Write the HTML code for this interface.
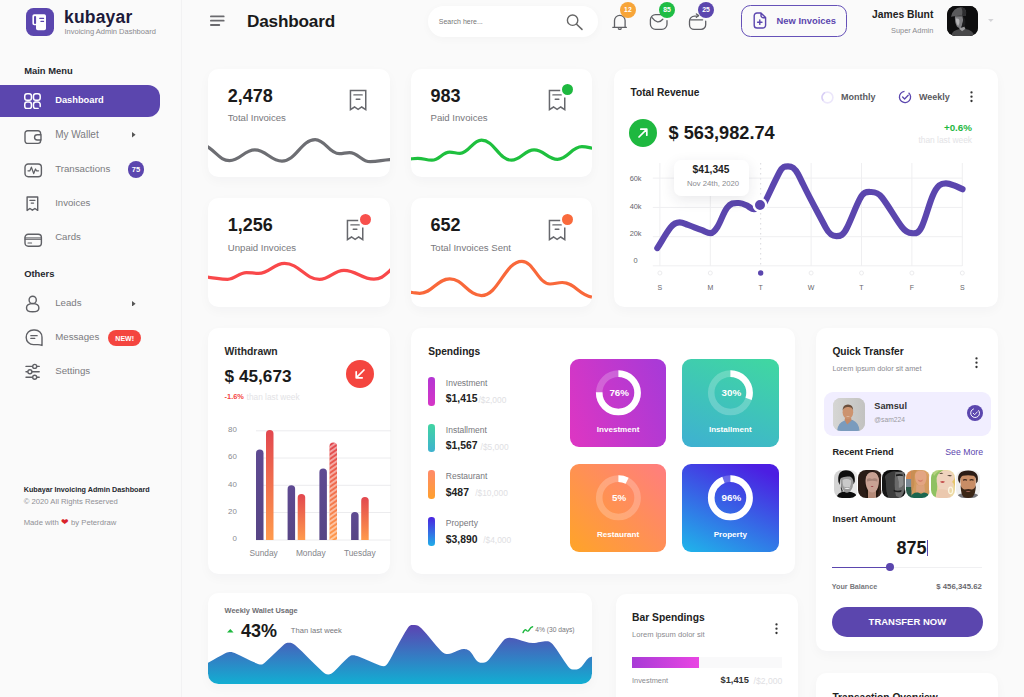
<!DOCTYPE html>
<html><head><meta charset="utf-8"><title>Kubayar Dashboard</title>
<style>
*{box-sizing:border-box;margin:0;padding:0}
html,body{width:1024px;height:697px;overflow:hidden;background:#fafafa;font-family:"Liberation Sans",sans-serif;}
#root{position:relative;width:1024px;height:697px;overflow:hidden;background:#fafafa}
.t{position:absolute;white-space:nowrap;font-family:"Liberation Sans",sans-serif;}
.card{background:#fff;border-radius:10.5px;box-shadow:0 4px 12px rgba(40,40,60,0.03);}
</style></head><body><div id="root">
<div class="" style="position:absolute;left:0px;top:0px;width:182px;height:697px;background:#fafafa;border-right:1px solid #f2f2f3;"></div>
<div class="" style="position:absolute;left:25.8px;top:8.4px;width:28px;height:28px;background:#5b46ae;border-radius:7.5px;"></div>
<svg style="position:absolute;left:25.8px;top:8.4px;" width="28" height="28" viewBox="0 0 28 28" fill="none"><path d="M8.2 6.2 h10 a1.8 1.8 0 0 1 1.8 1.8 v12.400 a1.8 1.8 0 0 1 -1.8 1.8 h-6.400 a1.8 1.8 0 0 1 -1.8 -1.8 v-3.200 h-1.800 a1.8 1.8 0 0 1 -1.8 -1.8 v-7.400 a1.8 1.8 0 0 1 1.8 -1.8z" fill="#fff"/><rect x="8" y="8.1" width="2.1" height="7.8" rx="1" fill="#5b46ae"/><rect x="13.2" y="9.800" width="4.9" height="1.1" rx=".5" fill="#5b46ae"/><rect x="14.4" y="12.700" width="3.7" height="1.2" rx=".5" fill="#5b46ae"/></svg>
<div class="t" style="top:8.65px;font-size:17.5px;line-height:17.5px;color:#1d1a3b;font-weight:bold;letter-spacing:0.18px;left:64px;">kubayar</div>
<div class="t" style="top:27.55px;font-size:7.5px;line-height:7.5px;color:#8a8a8f;font-weight:normal;left:64.5px;">Invoicing Admin Dashboard</div>
<div class="t" style="top:66.40px;font-size:9.4px;line-height:9.4px;color:#25282e;font-weight:bold;left:24.2px;">Main Menu</div>
<div class="" style="position:absolute;left:0px;top:85px;width:160.3px;height:31.7px;background:#5b46ae;border-radius:0 12px 12px 0;"></div>
<svg style="position:absolute;left:24.2px;top:93px;" width="17" height="16.4" viewBox="0 0 17 16.4" fill="none"><g stroke="#fff" stroke-width="1.5"><rect x=".75" y=".75" width="6.7" height="6.5" rx="2.3"/><rect x="9.5" y=".75" width="6.7" height="6.5" rx="2.3"/><rect x=".75" y="9.1" width="6.700" height="6.500" rx="2.3"/><path d="M16.200 13.400 v-2 a2.300 2.300 0 0 0 -2.300 -2.300 h-2.100 a2.300 2.300 0 0 0 -2.300 2.300 v1.900 a2.300 2.300 0 0 0 2.300 2.300 h2.300" stroke-linecap="round"/></g></svg>
<div class="t" style="top:96.05px;font-size:9.3px;line-height:9.3px;color:#fff;font-weight:bold;left:55.2px;">Dashboard</div>
<div class="t" style="top:129.70px;font-size:10px;line-height:10px;color:#7b7b80;font-weight:normal;left:55.2px;">My Wallet</div>
<div class="t" style="top:163.95px;font-size:9.7px;line-height:9.7px;color:#7b7b80;font-weight:normal;left:55.2px;">Transactions</div>
<div class="t" style="top:198.00px;font-size:9.6px;line-height:9.6px;color:#7b7b80;font-weight:normal;left:55.2px;">Invoices</div>
<div class="t" style="top:232.40px;font-size:9.6px;line-height:9.6px;color:#7b7b80;font-weight:normal;left:55.2px;">Cards</div>
<div class="t" style="top:268.70px;font-size:9.4px;line-height:9.4px;color:#25282e;font-weight:bold;left:24.2px;">Others</div>
<div class="t" style="top:297.95px;font-size:9.7px;line-height:9.7px;color:#7b7b80;font-weight:normal;left:55.2px;">Leads</div>
<div class="t" style="top:332.45px;font-size:9.7px;line-height:9.7px;color:#7b7b80;font-weight:normal;left:55.2px;">Messages</div>
<div class="t" style="top:366.35px;font-size:9.7px;line-height:9.7px;color:#7b7b80;font-weight:normal;left:55.2px;">Settings</div>
<svg style="position:absolute;left:132.3px;top:132.3px;" width="4" height="5.6" viewBox="0 0 4 5.6" fill="none"><path d="M0 0 L3.6 2.8 L0 5.6z" fill="#555"/></svg>
<svg style="position:absolute;left:132.3px;top:300.5px;" width="4" height="5.6" viewBox="0 0 4 5.6" fill="none"><path d="M0 0 L3.6 2.8 L0 5.6z" fill="#555"/></svg>
<div class="" style="position:absolute;left:127.7px;top:161.2px;width:16.6px;height:16.6px;background:#5b46ae;border-radius:50%;"></div>
<div class="t" style="top:165.85px;font-size:7.5px;line-height:7.5px;color:#fff;font-weight:bold;left:-14px;width:300px;text-align:center;">75</div>
<div class="" style="position:absolute;left:108.2px;top:330px;width:33px;height:16.3px;background:#f4453f;border-radius:9px;"></div>
<div class="t" style="top:334.80px;font-size:7px;line-height:7px;color:#fff;font-weight:bold;left:-25.299999999999997px;width:300px;text-align:center;">NEW!</div>
<svg style="position:absolute;left:24.2px;top:129.9px;" width="19" height="15" viewBox="0 0 19 15" fill="none"><g stroke="#5f6065" stroke-width="1.4" stroke-linecap="round" stroke-linejoin="round"><path d="M16.600 4.600 v-1.200 a2.600 2.600 0 0 0 -2.600 -2.600 h-10.400 a2.600 2.600 0 0 0 -2.600 2.600 v7.400 a2.600 2.600 0 0 0 2.600 2.600 h10.400 a2.600 2.600 0 0 0 2.600 -2.600 v-.8"/><path d="M17 4.700 h-3.800 a2.650 2.650 0 0 0 0 5.300 h3.800z"/></g></svg>
<svg style="position:absolute;left:24px;top:163.4px;" width="19" height="15" viewBox="0 0 19 15" fill="none"><g stroke="#5f6065" stroke-width="1.4" stroke-linecap="round" stroke-linejoin="round"><rect x="1" y="1" width="16.4" height="12.8" rx="3.2"/><path d="M4 7.8 h1.9 l1.5 -3.6 l2.3 6.4 l1.8 -4.6 l1 1.8 h2" stroke-width="1.25"/></g></svg>
<svg style="position:absolute;left:26.2px;top:195.8px;" width="14" height="16" viewBox="0 0 14 16" fill="none"><g stroke="#5f6065" stroke-width="1.4" stroke-linecap="round" stroke-linejoin="round" stroke-linejoin="miter"><path d="M1.1 1 H11.7 V14.4 L8.9 12.5 L6.4 14.2 L3.9 12.5 L1.1 14.4z" stroke-linecap="butt"/><path d="M3.8 4.3 h5.2 M5.2 7.1 h2.4" stroke-width="1.2"/></g></svg>
<svg style="position:absolute;left:24px;top:232.6px;" width="19" height="15" viewBox="0 0 19 15" fill="none"><g stroke="#5f6065" stroke-width="1.4" stroke-linecap="round" stroke-linejoin="round"><rect x="1" y="1.2" width="16.4" height="12" rx="3.2"/><path d="M1 4.9 h16.4 M1 6.3 h16.4" stroke-width="1"/><path d="M4 10 h3.6" stroke-width="1.1"/></g></svg>
<svg style="position:absolute;left:25.4px;top:294.6px;" width="16" height="18" viewBox="0 0 16 18" fill="none"><g stroke="#5f6065" stroke-width="1.4" stroke-linecap="round" stroke-linejoin="round"><circle cx="7.7" cy="4.9" r="3.6"/><path d="M7.7 8.6 c4.6 0 6.2 1.8 6.2 4.3 c0 2.6 -1.600 3.900 -6.200 3.900 c-4.600 0 -6.200 -1.300 -6.200 -3.900 c0 -2.500 1.600 -4.300 6.200 -4.300z"/></g></svg>
<svg style="position:absolute;left:24.6px;top:328.8px;" width="19" height="18" viewBox="0 0 19 18" fill="none"><g stroke="#5f6065" stroke-width="1.4" stroke-linecap="round" stroke-linejoin="round"><path d="M17 16.400 v-8.200 a7.200 7.200 0 0 0 -7.200 -7.200 h-1.400 a7.200 7.200 0 0 0 -7.200 7.200 v.2 a7.200 7.200 0 0 0 7.200 7.200 h4.400 q2.400 0 4.200 .8z"/><path d="M5.800 6.700 h6.400 M5.800 9.400 h4" stroke-width="1.2"/></g></svg>
<svg style="position:absolute;left:24.8px;top:363.2px;" width="16" height="18" viewBox="0 0 16 18" fill="none"><g stroke="#5f6065" stroke-width="1.4" stroke-linecap="round" stroke-linejoin="round"><path d="M1 3.400 h6.200 M12.200 3.400 h2 M1 8.800 h1.400 M7.200 8.800 h7 M1 14.300 h6.200 M12.200 14.300 h2"/><circle cx="9.700" cy="3.400" r="2"/><circle cx="4.900" cy="8.800" r="2"/><circle cx="9.700" cy="14.300" r="2"/></g></svg>
<div class="t" style="top:485.60px;font-size:7.2px;line-height:7.2px;color:#25282e;font-weight:bold;left:23.7px;">Kubayar Invoicing Admin Dashboard</div>
<div class="t" style="top:497.65px;font-size:7.7px;line-height:7.7px;color:#909095;font-weight:normal;left:23.7px;">© 2020 All Rights Reserved</div>
<div class="t" style="top:518.75px;font-size:7.7px;line-height:7.7px;color:#909095;font-weight:normal;left:23.7px;">Made with <span style="color:#d9232a;font-size:9px">&#10084;</span> by Peterdraw</div>
<svg style="position:absolute;left:210px;top:15.3px;" width="15" height="12" viewBox="0 0 15 12" fill="none"><path d="M.9 1.400 h12.800 M.9 5.700 h12.800 M.9 10 h8.400" stroke="#6a6a6e" stroke-width="1.800" stroke-linecap="round"/></svg>
<div class="t" style="top:12.70px;font-size:17.2px;line-height:17.2px;color:#1a1a1a;font-weight:bold;letter-spacing:-0.2px;left:247px;">Dashboard</div>
<div class="" style="position:absolute;left:428px;top:6px;width:169.5px;height:31px;background:#fff;border-radius:15.5px;box-shadow:0 2px 8px rgba(0,0,0,0.03);"></div>
<div class="t" style="top:17.50px;font-size:7px;line-height:7px;color:#777;font-weight:normal;left:438.8px;">Search here...</div>
<svg style="position:absolute;left:565px;top:13px;" width="20" height="18" viewBox="0 0 20 18" fill="none"><circle cx="7.6" cy="7.2" r="5.2" stroke="#666" stroke-width="1.4"/><path d="M11.6 11.2 L17 16.4" stroke="#666" stroke-width="1.5" stroke-linecap="round"/></svg>
<svg style="position:absolute;left:611px;top:13px;" width="18" height="19" viewBox="0 0 18 19" fill="none"><g stroke="#5f6065" stroke-width="1.3" stroke-linecap="round" stroke-linejoin="round"><path d="M3.5 14.2 v-6.6 a5.3 5.3 0 0 1 10.6 0 v6.6 M1.8 14.3 h13.6 M7.4 15.7 q1.4 1.3 2.8 0"/></g></svg>
<svg style="position:absolute;left:649px;top:13px;" width="20" height="19" viewBox="0 0 20 19" fill="none"><g stroke="#5f6065" stroke-width="1.3" stroke-linecap="round" stroke-linejoin="round"><path d="M13 1.6 h-6.4 a5.2 5.2 0 0 0 -5.2 5.2 v4.4 a5.2 5.2 0 0 0 5.2 5.2 h6.2 a5.2 5.2 0 0 0 5.2 -5.2 v-3.6"/><path d="M3 4.6 q5.6 7.6 10.8 1.6"/></g></svg>
<svg style="position:absolute;left:688px;top:13px;" width="20" height="19" viewBox="0 0 20 19" fill="none"><g stroke="#5f6065" stroke-width="1.3" stroke-linecap="round" stroke-linejoin="round"><path d="M17.7 8.2 v3.6 a4.6 4.6 0 0 1 -4.6 4.6 h-7 a4.6 4.6 0 0 1 -4.6 -4.6 v-3.6 a5 5 0 0 1 5 -5 h3.4"/><path d="M2.6 6.8 h12"/><path d="M8.4 .9 l2.2 1.7 l-2.2 1.7"/></g></svg>
<div class="" style="position:absolute;left:619.7px;top:2.1px;width:16.3px;height:16.3px;background:#f7a539;border-radius:50%;"></div>
<div class="t" style="top:7.10px;font-size:6.8px;line-height:6.8px;color:#fff;font-weight:bold;left:477.9000000000001px;width:300px;text-align:center;">12</div>
<div class="" style="position:absolute;left:658.8px;top:2.1px;width:16.3px;height:16.3px;background:#1fbd45;border-radius:50%;"></div>
<div class="t" style="top:7.10px;font-size:6.8px;line-height:6.8px;color:#fff;font-weight:bold;left:517.0px;width:300px;text-align:center;">85</div>
<div class="" style="position:absolute;left:697.8px;top:2.1px;width:16.3px;height:16.3px;background:#5b46ae;border-radius:50%;"></div>
<div class="t" style="top:7.10px;font-size:6.8px;line-height:6.8px;color:#fff;font-weight:bold;left:556.0px;width:300px;text-align:center;">25</div>
<div class="" style="position:absolute;left:741.2px;top:5.2px;width:105.6px;height:31.8px;border:1.4px solid #6652b8;border-radius:9.5px;"></div>
<svg style="position:absolute;left:753px;top:12.4px;" width="14" height="17" viewBox="0 0 14 17" fill="none"><g stroke="#5b46ae" stroke-width="1.4" stroke-linecap="round" stroke-linejoin="round"><path d="M8 1 h-4 a2.8 2.8 0 0 0 -2.8 2.8 v9.4 a2.8 2.8 0 0 0 2.8 2.8 h5.8 a2.8 2.8 0 0 0 2.8 -2.8 v-7.6z M8 1 v2.4 a2.4 2.4 0 0 0 2.4 2.4 h2.2"/><path d="M6.8 8 v4.4 M4.6 10.2 h4.4"/></g></svg>
<div class="t" style="top:16.20px;font-size:9.4px;line-height:9.4px;color:#5b46ae;font-weight:bold;left:776.6px;">New Invoices</div>
<div class="t" style="top:9.65px;font-size:10.3px;line-height:10.3px;color:#222;font-weight:bold;right:90.70000000000005px;text-align:right;">James Blunt</div>
<div class="t" style="top:26.90px;font-size:7.4px;line-height:7.4px;color:#8a8a8f;font-weight:normal;right:90.70000000000005px;text-align:right;">Super Admin</div>
<div class="" style="position:absolute;left:946.8px;top:5.7px;width:30.8px;height:30.6px;border-radius:8.5px;background:#0f0f10;overflow:hidden;"><svg width="31" height="31" viewBox="0 0 32 32"><rect width="32" height="32" fill="#0e0e0f"/><path d="M3.6 32 q1.4 -6.8 9.4 -8.2 h6 q8 1.2 10 8.2z" fill="#48484a"/><path d="M12.6 23.4 l3 2.6 l3.4 -2.4 l-1.2 -2.4 h-4z" fill="#9a9a9c"/><path d="M8.2 10.6 h8 q1.2 7 -1.8 11.8 q-2.6 1 -4.2 -1.2 q-2.4 -4.2 -2 -10.6z" fill="#7d7d80"/><path d="M9.2 13 q2.4 -.6 3.6 1.4 q.6 3.6 -1.2 6.2 q-2.6 -2.6 -2.4 -7.6z" fill="#b4b4b6"/><path d="M4.2 11 q2 -9 10.2 -9.6 q5 .4 5.4 5.8 l-.8 3.2 q-6.4 -1 -14.8 .6z" fill="#5a5a5c"/><path d="M14.4 1.4 q5 .4 5.4 5.8 l-.8 3.2 l-3.6 -.4 q1.4 -5 -1 -8.6z" fill="#2e2e30"/><path d="M16.2 10.6 q3.6 2 2.6 9 q-1.4 3 -4.4 2.8 q3 -4.800 1.800 -11.8z" fill="#1c1c1e"/></svg></div>
<svg style="position:absolute;left:988px;top:19.4px;" width="6" height="4" viewBox="0 0 6 4" fill="none"><path d="M0 0 L5.6 0 L2.8 3z" fill="#d4d4d7"/></svg>
<div class="card" style="position:absolute;left:207.8px;top:68.8px;width:182.4px;height:108.4px;overflow:hidden;"><svg width="183" height="109" viewBox="207.8 68.8 183 109" style="position:absolute;left:0;top:0"><path d="M203.0 143.5 C205.4 145.1 206.3 145.7 208.7 147.4 C217.4 153.5 220.6 160.4 229.3 160.4 C239.9 160.4 244.0 149.7 254.6 149.7 C266.0 149.7 270.4 160.9 281.8 160.9 C295.7 160.9 301.1 139.4 315.0 139.4 C325.1 139.4 328.9 153.5 339.0 153.5 C343.3 153.5 345.0 152.4 349.3 152.4 C358.0 152.4 361.3 161.5 370.0 161.5 C378.2 161.5 381.4 159.9 389.6 159.4 C391.9 159.3 392.7 159.2 395.0 159.2" stroke="#6d6e73" stroke-width="3.2" fill="none" stroke-linecap="round"/></svg></div>
<div class="t" style="top:86.60px;font-size:18px;line-height:18px;color:#1a1a1a;font-weight:bold;left:227.8px;">2,478</div>
<div class="t" style="top:113.00px;font-size:9.6px;line-height:9.6px;color:#77777c;font-weight:normal;left:227.8px;">Total Invoices</div>
<svg style="position:absolute;left:348.6px;top:89.19999999999999px;" width="18" height="23" viewBox="0 0 18 23" fill="none"><g stroke="#67686d" stroke-width="1.5" stroke-linejoin="miter" stroke-linecap="butt"><path d="M1.45 1.45 H16.75 V20.6 L12.7 18 L9.1 20.4 L5.5 18 L1.45 20.6z"/><path d="M4.9 5.9 h8.3 M7.2 10.2 h3.7" stroke-width="1.4" stroke-linecap="round"/></g></svg>
<div class="card" style="position:absolute;left:410.5px;top:68.8px;width:181.5px;height:108.4px;overflow:hidden;"><svg width="183" height="109" viewBox="410.5 68.8 183 109" style="position:absolute;left:0;top:0"><path d="M406.0 158.9 C410.7 158.9 412.6 158.2 417.3 158.2 C423.2 158.2 425.5 160.0 431.4 160.0 C438.9 160.0 441.7 151.9 449.2 151.9 C453.5 151.9 455.2 153.1 459.5 153.1 C468.5 153.1 472.0 139.9 481.0 139.9 C493.6 139.9 498.4 160.0 511.0 160.0 C520.5 160.0 524.1 149.7 533.6 149.7 C543.4 149.7 547.2 159.1 557.0 159.1 C567.2 159.1 571.2 146.5 581.4 146.5 C585.3 146.5 586.9 147.0 590.8 147.8 C593.4 148.3 594.4 148.7 597.0 149.2" stroke="#1ec03e" stroke-width="3.2" fill="none" stroke-linecap="round"/></svg></div>
<div class="t" style="top:86.60px;font-size:18px;line-height:18px;color:#1a1a1a;font-weight:bold;left:430.5px;">983</div>
<div class="t" style="top:113.00px;font-size:9.6px;line-height:9.6px;color:#77777c;font-weight:normal;left:430.5px;">Paid Invoices</div>
<svg style="position:absolute;left:548px;top:89.19999999999999px;" width="18" height="23" viewBox="0 0 18 23" fill="none"><g stroke="#67686d" stroke-width="1.5" stroke-linejoin="miter" stroke-linecap="butt"><path d="M12.2 1.45 H1.45 V20.6 L5.5 18 L9.1 20.4 L12.7 18 L16.75 20.6 V8.6"/><path d="M4.9 5.9 h8.3 M7.2 10.2 h3.7" stroke-width="1.4" stroke-linecap="round"/></g></svg>
<div class="" style="position:absolute;left:562px;top:83.99999999999999px;width:11.4px;height:11.4px;background:#1eb83f;border-radius:50%;"></div>
<div class="card" style="position:absolute;left:207.8px;top:198.3px;width:182.4px;height:108.4px;overflow:hidden;"><svg width="183" height="109" viewBox="207.8 198.3 183 109" style="position:absolute;left:0;top:0"><path d="M203.0 277.2 C205.4 277.3 206.3 277.4 208.7 277.6 C216.6 278.2 219.5 279.6 227.4 279.6 C235.3 279.6 238.3 272.9 246.2 272.9 C251.3 272.9 253.3 273.6 258.4 273.6 C269.3 273.6 273.4 263.7 284.3 263.7 C299.0 263.7 304.6 279.6 319.3 279.6 C329.5 279.6 333.5 270.6 343.7 270.6 C356.3 270.6 361.1 279.4 373.7 279.4 C380.4 279.4 382.9 277.0 389.6 271.0 C391.9 269.0 392.7 268.0 395.0 266.0" stroke="#f9484a" stroke-width="3.2" fill="none" stroke-linecap="round"/></svg></div>
<div class="t" style="top:216.10px;font-size:18px;line-height:18px;color:#1a1a1a;font-weight:bold;left:227.8px;">1,256</div>
<div class="t" style="top:242.50px;font-size:9.6px;line-height:9.6px;color:#77777c;font-weight:normal;left:227.8px;">Unpaid Invoices</div>
<svg style="position:absolute;left:345.8px;top:218.70000000000002px;" width="18" height="23" viewBox="0 0 18 23" fill="none"><g stroke="#67686d" stroke-width="1.5" stroke-linejoin="miter" stroke-linecap="butt"><path d="M12.2 1.45 H1.45 V20.6 L5.5 18 L9.1 20.4 L12.7 18 L16.75 20.6 V8.6"/><path d="M4.9 5.9 h8.3 M7.2 10.2 h3.7" stroke-width="1.4" stroke-linecap="round"/></g></svg>
<div class="" style="position:absolute;left:359.8px;top:213.50000000000003px;width:11.4px;height:11.4px;background:#f8504c;border-radius:50%;"></div>
<div class="card" style="position:absolute;left:410.5px;top:198.3px;width:181.5px;height:108.4px;overflow:hidden;"><svg width="183" height="109" viewBox="410.5 198.3 183 109" style="position:absolute;left:0;top:0"><path d="M406.0 292.4 C408.4 292.5 409.3 292.6 411.7 292.8 C414.8 293.1 416.1 293.7 419.2 293.7 C431.8 293.7 436.6 279.1 449.2 279.1 C462.6 279.1 467.6 295.9 481.0 295.9 C498.0 295.9 504.4 261.6 521.4 261.6 C533.2 261.6 537.7 284.3 549.5 284.3 C554.6 284.3 556.6 282.8 561.7 282.8 C574.6 282.8 579.4 296.8 592.3 297.4 C594.3 297.5 595.0 297.6 597.0 297.6" stroke="#f9683a" stroke-width="3.2" fill="none" stroke-linecap="round"/></svg></div>
<div class="t" style="top:216.10px;font-size:18px;line-height:18px;color:#1a1a1a;font-weight:bold;left:430.5px;">652</div>
<div class="t" style="top:242.50px;font-size:9.6px;line-height:9.6px;color:#77777c;font-weight:normal;left:430.5px;">Total Invoices Sent</div>
<svg style="position:absolute;left:548px;top:218.70000000000002px;" width="18" height="23" viewBox="0 0 18 23" fill="none"><g stroke="#67686d" stroke-width="1.5" stroke-linejoin="miter" stroke-linecap="butt"><path d="M12.2 1.45 H1.45 V20.6 L5.5 18 L9.1 20.4 L12.7 18 L16.75 20.6 V8.6"/><path d="M4.9 5.9 h8.3 M7.2 10.2 h3.7" stroke-width="1.4" stroke-linecap="round"/></g></svg>
<div class="" style="position:absolute;left:562px;top:213.50000000000003px;width:11.4px;height:11.4px;background:#f96a3c;border-radius:50%;"></div>
<div class="card" style="position:absolute;left:613.8px;top:68.8px;width:384px;height:238.4px;"></div>
<div class="t" style="top:87.50px;font-size:10.2px;line-height:10.2px;color:#222;font-weight:bold;left:630.5px;">Total Revenue</div>
<svg style="position:absolute;left:820.6px;top:90.6px;" width="13" height="13" viewBox="0 0 13 13" fill="none"><circle cx="6.5" cy="6.5" r="5.4" stroke="#ece7fb" stroke-width="1.6"/><path d="M1.8 9 a5.4 5.4 0 0 1 1.6 -7.2" stroke="#d8cff5" stroke-width="1.6" stroke-linecap="round"/></svg>
<div class="t" style="top:92.70px;font-size:9px;line-height:9px;color:#5a5a5f;font-weight:bold;left:841px;">Monthly</div>
<svg style="position:absolute;left:898px;top:90px;" width="15" height="14" viewBox="0 0 15 14" fill="none"><circle cx="7" cy="7" r="5.6" stroke="#5b46ae" stroke-width="1.3" stroke-dasharray="30 5.2" transform="rotate(-50 7 7)"/><path d="M4.6 7 l2 2 l3.6 -3.8" stroke="#5b46ae" stroke-width="1.3" stroke-linecap="round" stroke-linejoin="round"/></svg>
<div class="t" style="top:92.70px;font-size:9px;line-height:9px;color:#5a5a5f;font-weight:bold;left:919px;">Weekly</div>
<svg style="position:absolute;left:969.8px;top:91px;" width="3" height="12" viewBox="0 0 3 12" fill="none"><circle cx="1.5" cy="1.4" r="1.15" fill="#333"/><circle cx="1.5" cy="5.7" r="1.15" fill="#333"/><circle cx="1.5" cy="10" r="1.15" fill="#333"/></svg>
<div class="" style="position:absolute;left:629.4px;top:119.2px;width:28px;height:28px;background:#1eb83f;border-radius:50%;"></div>
<svg style="position:absolute;left:629.4px;top:119.2px;" width="28" height="28" viewBox="0 0 28 28" fill="none"><path d="M10 18 L17.6 10.4 M11.8 10.2 h6 v6" stroke="#fff" stroke-width="1.7" stroke-linecap="round" stroke-linejoin="round"/></svg>
<div class="t" style="top:123.70px;font-size:18.2px;line-height:18.2px;color:#1a1a1a;font-weight:bold;left:668.5px;">$ 563,982.74</div>
<div class="t" style="top:122.70px;font-size:9.8px;line-height:9.8px;color:#1eb83f;font-weight:bold;right:52px;text-align:right;">+0.6%</div>
<div class="t" style="top:135.60px;font-size:8.4px;line-height:8.4px;color:#e3e3e6;font-weight:normal;right:52px;text-align:right;">than last week</div>
<svg style="position:absolute;left:0;top:0" width="1024" height="697" viewBox="0 0 1024 697" fill="none"><line x1="659.9" y1="163" x2="659.9" y2="266" stroke="#efeff1" stroke-width="1"/><line x1="710.3" y1="163" x2="710.3" y2="266" stroke="#efeff1" stroke-width="1"/><line x1="760.7" y1="163" x2="760.7" y2="266" stroke="#d8d8dc" stroke-width="1" stroke-dasharray="1.5 3.5"/><line x1="811.1" y1="163" x2="811.1" y2="266" stroke="#efeff1" stroke-width="1"/><line x1="861.5" y1="163" x2="861.5" y2="266" stroke="#efeff1" stroke-width="1"/><line x1="911.9" y1="163" x2="911.9" y2="266" stroke="#efeff1" stroke-width="1"/><line x1="962.3" y1="163" x2="962.3" y2="266" stroke="#efeff1" stroke-width="1"/><line x1="652.8" y1="178.1" x2="962.4" y2="178.1" stroke="#efeff1" stroke-width="1"/><line x1="652.8" y1="207.4" x2="962.4" y2="207.4" stroke="#efeff1" stroke-width="1"/><line x1="652.8" y1="236.7" x2="962.4" y2="236.7" stroke="#efeff1" stroke-width="1"/><line x1="652.8" y1="265.8" x2="962.4" y2="265.8" stroke="#efeff1" stroke-width="1"/><circle cx="659.9" cy="273" r="2" fill="#fff" stroke="#ececee" stroke-width="1"/><circle cx="710.3" cy="273" r="2" fill="#fff" stroke="#ececee" stroke-width="1"/><circle cx="760.7" cy="273" r="2.7" fill="#5b46ae"/><circle cx="811.1" cy="273" r="2" fill="#fff" stroke="#ececee" stroke-width="1"/><circle cx="861.5" cy="273" r="2" fill="#fff" stroke="#ececee" stroke-width="1"/><circle cx="911.9" cy="273" r="2" fill="#fff" stroke="#ececee" stroke-width="1"/><circle cx="962.3" cy="273" r="2" fill="#fff" stroke="#ececee" stroke-width="1"/><path d="M657.3 248.1 C662.1 240.7 665.8 233.6 670.6 227.4 C673.9 223.1 676.4 222.4 679.7 222.4 C682.7 222.4 685.0 223.9 688.0 224.9 C693.0 226.7 697.0 228.4 702.0 230.2 C705.0 231.3 707.4 233.2 710.4 233.2 C712.9 233.2 714.9 231.0 717.4 227.0 C720.9 221.5 723.5 212.3 727.0 207.8 C731.2 202.4 734.4 203.0 738.6 203.0 C741.6 203.0 744.0 204.1 747.0 205.6 C749.5 206.9 751.5 209.2 754.0 209.2 C758.3 209.2 761.7 208.9 766.0 200.0 C770.9 189.9 774.7 181.3 779.6 172.0 C782.7 166.2 785.0 166.3 788.1 166.3 C791.7 166.3 794.4 167.2 798.0 174.0 C799.8 177.4 801.2 180.3 803.0 184.0 C811.1 200.7 817.5 211.9 825.6 227.4 C829.5 234.8 832.5 236.2 836.4 236.2 C840.3 236.2 843.3 235.6 847.2 227.4 C851.7 218.0 855.1 208.3 859.6 199.4 C863.8 191.0 867.0 192.0 871.2 192.0 C875.1 192.0 878.1 192.4 882.0 197.5 C889.2 206.9 894.8 217.5 902.0 227.2 C905.6 232.0 908.3 233.2 911.9 233.2 C915.5 233.2 918.3 234.3 921.9 226.4 C925.8 217.9 928.7 205.2 932.6 196.0 C937.4 184.5 941.1 183.4 945.9 183.4 C948.8 183.4 951.1 184.3 954.0 185.4 C957.1 186.6 959.4 187.8 962.5 189.2" stroke="#5b46ae" stroke-width="6.2" fill="none" stroke-linecap="round" stroke-linejoin="round"/><circle cx="760" cy="205" r="6.2" fill="#5b46ae" stroke="#fff" stroke-width="2.4"/></svg>
<div class="t" style="top:174.90px;font-size:7.4px;line-height:7.4px;color:#66666b;font-weight:normal;left:485.6px;width:300px;text-align:center;">60k</div>
<div class="t" style="top:202.60px;font-size:7.4px;line-height:7.4px;color:#66666b;font-weight:normal;left:485.6px;width:300px;text-align:center;">40k</div>
<div class="t" style="top:229.90px;font-size:7.4px;line-height:7.4px;color:#66666b;font-weight:normal;left:485.6px;width:300px;text-align:center;">20k</div>
<div class="t" style="top:257.30px;font-size:7.4px;line-height:7.4px;color:#66666b;font-weight:normal;left:485.6px;width:300px;text-align:center;">0</div>
<div class="t" style="top:283.70px;font-size:7px;line-height:7px;color:#66666b;font-weight:normal;left:509.9px;width:300px;text-align:center;">S</div>
<div class="t" style="top:283.70px;font-size:7px;line-height:7px;color:#66666b;font-weight:normal;left:560.3px;width:300px;text-align:center;">M</div>
<div class="t" style="top:283.70px;font-size:7px;line-height:7px;color:#66666b;font-weight:normal;left:610.6999999999999px;width:300px;text-align:center;">T</div>
<div class="t" style="top:283.70px;font-size:7px;line-height:7px;color:#66666b;font-weight:normal;left:661.0999999999999px;width:300px;text-align:center;">W</div>
<div class="t" style="top:283.70px;font-size:7px;line-height:7px;color:#66666b;font-weight:normal;left:711.5px;width:300px;text-align:center;">T</div>
<div class="t" style="top:283.70px;font-size:7px;line-height:7px;color:#66666b;font-weight:normal;left:761.9px;width:300px;text-align:center;">F</div>
<div class="t" style="top:283.70px;font-size:7px;line-height:7px;color:#66666b;font-weight:normal;left:812.3px;width:300px;text-align:center;">S</div>
<div class="" style="position:absolute;left:674.3px;top:159.6px;width:75.2px;height:36.4px;background:#fff;border-radius:7px;box-shadow:0 4px 14px rgba(40,40,60,0.10);"></div>
<div class="t" style="top:164.70px;font-size:10.2px;line-height:10.2px;color:#222;font-weight:bold;left:561px;width:300px;text-align:center;">$41,345</div>
<div class="t" style="top:179.75px;font-size:7.7px;line-height:7.7px;color:#8a8a8f;font-weight:normal;left:563px;width:300px;text-align:center;">Nov 24th, 2020</div>
<div class="card" style="position:absolute;left:207.8px;top:327.6px;width:182.4px;height:246px;overflow:hidden;"></div>
<div class="t" style="top:347.00px;font-size:10.4px;line-height:10.4px;color:#2a2a2a;font-weight:bold;left:224.6px;">Withdrawn</div>
<div class="t" style="top:368.10px;font-size:17.2px;line-height:17.2px;color:#1a1a1a;font-weight:bold;left:224.6px;">$ 45,673</div>
<div class="" style="position:absolute;left:346.2px;top:360.2px;width:28px;height:28px;background:#f4453f;border-radius:50%;"></div>
<svg style="position:absolute;left:346.2px;top:360.2px;" width="28" height="28" viewBox="0 0 28 28" fill="none"><path d="M18 10 L10.4 17.6 M10.2 11.8 v6 h6" stroke="#fff" stroke-width="1.7" stroke-linecap="round" stroke-linejoin="round"/></svg>
<div class="t" style="top:392.90px;font-size:7.4px;line-height:7.4px;color:#f4453f;font-weight:bold;left:224.6px;">-1.6%</div>
<div class="t" style="top:392.65px;font-size:8.3px;line-height:8.3px;color:#e3e3e6;font-weight:normal;left:246.6px;">than last week</div>
<svg style="position:absolute;left:0;top:0" width="1024" height="697" viewBox="0 0 1024 697" fill="none"><defs><linearGradient id="gp" x1="0" y1="0" x2="0" y2="1"><stop offset="0" stop-color="#5e4a92"/><stop offset="1" stop-color="#574585"/></linearGradient><linearGradient id="go" x1="0" y1="0" x2="0" y2="1"><stop offset="0" stop-color="#e2474f"/><stop offset="1" stop-color="#ff9a4c"/></linearGradient><pattern id="hatch" width="3.8" height="3.8" patternUnits="userSpaceOnUse" patternTransform="rotate(55)"><rect width="1.8" height="3.8" fill="#fff" fill-opacity=".5"/></pattern></defs><line x1="256" y1="430.8" x2="391" y2="430.8" stroke="#ececee" stroke-width="1"/><line x1="256" y1="458" x2="391" y2="458" stroke="#ececee" stroke-width="1"/><line x1="256" y1="485.3" x2="391" y2="485.3" stroke="#ececee" stroke-width="1"/><line x1="256" y1="512.5" x2="391" y2="512.5" stroke="#ececee" stroke-width="1"/><line x1="256" y1="540" x2="391" y2="540" stroke="#ececee" stroke-width="1"/><path d="M256 540 V453.25 a3.75 3.75 0 0 1 7.5 0 V540z" fill="url(#gp)"/><path d="M266 540 V433.75 a3.75 3.75 0 0 1 7.5 0 V540z" fill="url(#go)"/><path d="M287.6 540 V489.05 a3.75 3.75 0 0 1 7.5 0 V540z" fill="url(#gp)"/><path d="M297.7 540 V497.75 a3.75 3.75 0 0 1 7.5 0 V540z" fill="url(#go)"/><path d="M319.4 540 V472.25 a3.75 3.75 0 0 1 7.5 0 V540z" fill="url(#gp)"/><path d="M329.5 540 V446.15 a3.75 3.75 0 0 1 7.5 0 V540z" fill="url(#go)"/><path d="M329.5 540 V446.15 a3.75 3.75 0 0 1 7.5 0 V540z" fill="url(#hatch)"/><path d="M351.1 540 V515.75 a3.75 3.75 0 0 1 7.5 0 V540z" fill="url(#gp)"/><path d="M361.2 540 V500.75 a3.75 3.75 0 0 1 7.5 0 V540z" fill="url(#go)"/></svg>
<div class="t" style="top:426.05px;font-size:7.9px;line-height:7.9px;color:#8a8a8f;font-weight:normal;right:787.2px;text-align:right;">80</div>
<div class="t" style="top:453.35px;font-size:7.9px;line-height:7.9px;color:#8a8a8f;font-weight:normal;right:787.2px;text-align:right;">60</div>
<div class="t" style="top:480.65px;font-size:7.9px;line-height:7.9px;color:#8a8a8f;font-weight:normal;right:787.2px;text-align:right;">40</div>
<div class="t" style="top:507.85px;font-size:7.9px;line-height:7.9px;color:#8a8a8f;font-weight:normal;right:787.2px;text-align:right;">20</div>
<div class="t" style="top:535.45px;font-size:7.9px;line-height:7.9px;color:#8a8a8f;font-weight:normal;right:787.2px;text-align:right;">0</div>
<div class="t" style="top:549.40px;font-size:8.4px;line-height:8.4px;color:#85858a;font-weight:normal;left:113.60000000000002px;width:300px;text-align:center;">Sunday</div>
<div class="t" style="top:549.40px;font-size:8.4px;line-height:8.4px;color:#85858a;font-weight:normal;left:160.8px;width:300px;text-align:center;">Monday</div>
<div class="t" style="top:549.40px;font-size:8.4px;line-height:8.4px;color:#85858a;font-weight:normal;left:209.8px;width:300px;text-align:center;">Tuesday</div>
<div class="card" style="position:absolute;left:410.8px;top:327.6px;width:384.4px;height:246px;"></div>
<div class="t" style="top:346.90px;font-size:10.2px;line-height:10.2px;color:#222;font-weight:bold;left:428.2px;">Spendings</div>
<div class="" style="position:absolute;left:428.3px;top:377.0px;width:6.4px;height:28.8px;background:linear-gradient(180deg,#b436d3,#d636c6);border-radius:3.2px;"></div>
<div class="t" style="top:378.95px;font-size:8.5px;line-height:8.5px;color:#77777c;font-weight:normal;left:445.8px;">Investment</div>
<div class="t" style="top:394.40px;font-size:10.4px;line-height:10.4px;color:#222;font-weight:bold;left:445.8px;">$1,415</div>
<div class="t" style="top:395.80px;font-size:8.4px;line-height:8.4px;color:#e0e0e3;font-weight:normal;left:478.4px;">/$2,000</div>
<div class="" style="position:absolute;left:428.3px;top:423.7px;width:6.4px;height:28.8px;background:linear-gradient(180deg,#41d4a2,#3fb2cf);border-radius:3.2px;"></div>
<div class="t" style="top:425.65px;font-size:8.5px;line-height:8.5px;color:#77777c;font-weight:normal;left:445.8px;">Installment</div>
<div class="t" style="top:441.10px;font-size:10.4px;line-height:10.4px;color:#222;font-weight:bold;left:445.8px;">$1,567</div>
<div class="t" style="top:442.50px;font-size:8.4px;line-height:8.4px;color:#e0e0e3;font-weight:normal;left:480.6px;">/$5,000</div>
<div class="" style="position:absolute;left:428.3px;top:470.4px;width:6.4px;height:28.8px;background:linear-gradient(180deg,#ff8a6a,#ffa02e);border-radius:3.2px;"></div>
<div class="t" style="top:472.35px;font-size:8.5px;line-height:8.5px;color:#77777c;font-weight:normal;left:445.8px;">Restaurant</div>
<div class="t" style="top:487.80px;font-size:10.4px;line-height:10.4px;color:#222;font-weight:bold;left:445.8px;">$487</div>
<div class="t" style="top:489.20px;font-size:8.4px;line-height:8.4px;color:#e0e0e3;font-weight:normal;left:475.2px;">/$10,000</div>
<div class="" style="position:absolute;left:428.3px;top:517.1px;width:6.4px;height:28.8px;background:linear-gradient(180deg,#4a24e0,#21aee8);border-radius:3.2px;"></div>
<div class="t" style="top:519.05px;font-size:8.5px;line-height:8.5px;color:#77777c;font-weight:normal;left:445.8px;">Property</div>
<div class="t" style="top:534.50px;font-size:10.4px;line-height:10.4px;color:#222;font-weight:bold;left:445.8px;">$3,890</div>
<div class="t" style="top:535.90px;font-size:8.4px;line-height:8.4px;color:#e0e0e3;font-weight:normal;left:483.2px;">/$4,000</div>
<div class="" style="position:absolute;left:570px;top:358.8px;width:96.4px;height:88.4px;background:linear-gradient(250deg,#a63ad8 0%,#de36c2 100%);border-radius:9px;"></div>
<svg style="position:absolute;left:570px;top:358.8px;" width="97" height="89" viewBox="0 0 97 89" fill="none"><circle cx="48.4" cy="33.8" r="19.2" stroke="#fff" stroke-opacity=".22" stroke-width="6.6"/><circle cx="48.4" cy="33.8" r="19.2" stroke="#fff" stroke-width="6.6" stroke-dasharray="90.48 120.64" transform="rotate(-90 48.4 33.8)"/></svg>
<div class="t" style="top:387.90px;font-size:9.8px;line-height:9.8px;color:#fff;font-weight:bold;left:469.19999999999993px;width:300px;text-align:center;">76%</div>
<div class="t" style="top:425.65px;font-size:8.1px;line-height:8.1px;color:#fff;font-weight:bold;left:468.1px;width:300px;text-align:center;">Investment</div>
<div class="" style="position:absolute;left:682.2px;top:358.8px;width:96.4px;height:88.4px;background:linear-gradient(200deg,#40d8a0 0%,#3eb0d2 100%);border-radius:9px;"></div>
<svg style="position:absolute;left:682.2px;top:358.8px;" width="97" height="89" viewBox="0 0 97 89" fill="none"><circle cx="48.4" cy="33.8" r="19.2" stroke="#fff" stroke-opacity=".22" stroke-width="6.6"/><circle cx="48.4" cy="33.8" r="19.2" stroke="#fff" stroke-width="6.6" stroke-dasharray="36.19 120.64" transform="rotate(-90 48.4 33.8)"/></svg>
<div class="t" style="top:387.90px;font-size:9.8px;line-height:9.8px;color:#fff;font-weight:bold;left:581.4px;width:300px;text-align:center;">30%</div>
<div class="t" style="top:425.65px;font-size:8.1px;line-height:8.1px;color:#fff;font-weight:bold;left:580.3000000000001px;width:300px;text-align:center;">Installment</div>
<div class="" style="position:absolute;left:570px;top:463.8px;width:96.4px;height:88.4px;background:linear-gradient(225deg,#ff7d80 0%,#ffa428 100%);border-radius:9px;"></div>
<svg style="position:absolute;left:570px;top:463.8px;" width="97" height="89" viewBox="0 0 97 89" fill="none"><circle cx="48.4" cy="33.8" r="19.2" stroke="#fff" stroke-opacity=".22" stroke-width="6.6"/><circle cx="48.4" cy="33.8" r="19.2" stroke="#fff" stroke-width="6.6" stroke-dasharray="9.05 120.64" transform="rotate(-90 48.4 33.8)"/></svg>
<div class="t" style="top:492.90px;font-size:9.8px;line-height:9.8px;color:#fff;font-weight:bold;left:469.19999999999993px;width:300px;text-align:center;">5%</div>
<div class="t" style="top:530.65px;font-size:8.1px;line-height:8.1px;color:#fff;font-weight:bold;left:468.1px;width:300px;text-align:center;">Restaurant</div>
<div class="" style="position:absolute;left:682.2px;top:463.8px;width:96.4px;height:88.4px;background:linear-gradient(205deg,#4c1ee2 10%,#1fb6ea 100%);border-radius:9px;"></div>
<svg style="position:absolute;left:682.2px;top:463.8px;" width="97" height="89" viewBox="0 0 97 89" fill="none"><circle cx="48.4" cy="33.8" r="19.2" stroke="#fff" stroke-opacity=".22" stroke-width="6.6"/><circle cx="48.4" cy="33.8" r="19.2" stroke="#fff" stroke-width="6.6" stroke-dasharray="112.80 120.64" transform="rotate(-90 48.4 33.8)"/></svg>
<div class="t" style="top:492.90px;font-size:9.8px;line-height:9.8px;color:#fff;font-weight:bold;left:581.4px;width:300px;text-align:center;">96%</div>
<div class="t" style="top:530.65px;font-size:8.1px;line-height:8.1px;color:#fff;font-weight:bold;left:580.3000000000001px;width:300px;text-align:center;">Property</div>
<div class="card" style="position:absolute;left:816px;top:328px;width:182.4px;height:323.4px;"></div>
<div class="t" style="top:347.10px;font-size:10.2px;line-height:10.2px;color:#222;font-weight:bold;left:832.4px;">Quick Transfer</div>
<div class="t" style="top:365.10px;font-size:7.4px;line-height:7.4px;color:#8a8a8f;font-weight:normal;left:832.4px;">Lorem ipsum dolor sit amet</div>
<svg style="position:absolute;left:974.9px;top:357px;" width="3" height="12" viewBox="0 0 3 12" fill="none"><circle cx="1.5" cy="1.4" r="1.15" fill="#333"/><circle cx="1.5" cy="5.7" r="1.15" fill="#333"/><circle cx="1.5" cy="10" r="1.15" fill="#333"/></svg>
<div class="" style="position:absolute;left:823.8px;top:392.4px;width:167.2px;height:43.2px;background:#f1eeff;border-radius:9px;"></div>
<div class="" style="position:absolute;left:833.4px;top:397.6px;width:31.6px;height:33px;border-radius:8px;overflow:hidden;background:#d0d0ce;"><svg width="32" height="33" viewBox="0 0 32 33"><defs><linearGradient id="sg" x1="0" x2="1"><stop offset="0" stop-color="#d6d6d4"/><stop offset="1" stop-color="#c2c2c0"/></linearGradient></defs><rect width="32" height="33" fill="url(#sg)"/><path d="M4 33 q1 -8.400 7.600 -10.400 l3 -1.200 l5 .6 q6.400 2.600 7 11z" fill="#7a9bbd"/><path d="M11.600 22 l2.600 4.600 l4.400 -4.200 l-.6 -3 h-5.800z" fill="#c48a68"/><ellipse cx="14.900" cy="14.200" rx="5.300" ry="6.800" fill="#cc936f"/><path d="M9.600 12.600 q0 -6.200 5.400 -6.200 q5.200 .2 5.200 6 q-1.200 -3.600 -5.200 -3.400 q-4 -.2 -5.400 3.600z" fill="#6b4f3c"/><path d="M12.600 18 q2.400 1.600 4.800 0 q-2.400 .6 -4.800 0z" fill="#f4e6dc"/></svg></div>
<div class="t" style="top:402.00px;font-size:9.2px;line-height:9.2px;color:#333;font-weight:bold;left:874.3px;">Samsul</div>
<div class="t" style="top:416.85px;font-size:6.7px;line-height:6.7px;color:#9a9aa0;font-weight:normal;left:874.3px;">@sam224</div>
<div class="" style="position:absolute;left:966.6px;top:405.2px;width:16.2px;height:16.2px;background:#5b46ae;border-radius:50%;"></div>
<svg style="position:absolute;left:966.6px;top:405.2px;" width="16.2" height="16.2" viewBox="0 0 16.2 16.2" fill="none"><circle cx="8.1" cy="8.1" r="4.4" stroke="#fff" stroke-width=".9" stroke-dasharray="22 5.6" transform="rotate(-40 8.1 8.1)"/><path d="M6.2 8.2 l1.5 1.5 l2.6 -2.8" stroke="#fff" stroke-width=".9" stroke-linecap="round" stroke-linejoin="round"/></svg>
<div class="t" style="top:448.00px;font-size:9.2px;line-height:9.2px;color:#222;font-weight:bold;left:832.4px;">Recent Friend</div>
<div class="t" style="top:448.45px;font-size:8.7px;line-height:8.7px;color:#5b46ae;font-weight:normal;right:41px;text-align:right;">See More</div>
<svg width="0" height="0" style="position:absolute"><defs><filter id="bl" x="-5%" y="-5%" width="110%" height="110%"><feGaussianBlur stdDeviation="0.45"/></filter></defs></svg>
<div style="position:absolute;left:832.8px;top:468.4px;width:27px;height:30.8px;border-radius:9.5px;background:#fff;"></div>
<div style="position:absolute;left:834.3px;top:469.9px;width:24px;height:27.8px;border-radius:8px;overflow:hidden;"><svg width="24" height="28" viewBox="0 0 24 28" preserveAspectRatio="none"><g filter="url(#bl)"><rect x="-2" y="-2" width="28" height="32" fill="#888"/><rect width="24" height="28" fill="#e9e9e9"/><rect width="7" height="28" fill="#d4d4d4"/><path d="M2.400 28 q1 -5.600 8 -6.400 h4 q8 1 9.600 6.400z" fill="#0c0c0c"/><path d="M6.400 8 q0 -2 6.200 -2.400 q6.600 0 6.600 4 q.6 8 -3 12 q-3.400 2.400 -6 -.2 q-4 -5.400 -3.800 -13.400z" fill="#9a9a9a"/><path d="M8.600 10 q4 -2 8.400 .4 q.2 4 -1 6.600 q-3.600 1 -6.600 -.4 q-1 -3 -.8 -6.600z" fill="#c9c9c9"/><path d="M4.400 12 q-1.400 -11.600 7.600 -11.800 q9.600 .2 8.800 11.400 l-1.200 3 q0 -7 -3.600 -8 q-5.400 -.8 -9 1.400 q-1.600 2 -1 7z" fill="#0e0e0e"/><path d="M9.800 17.800 q3.600 2.600 7 -.4 q-3.400 .8 -7 .4z" fill="#f2f2f2"/><path d="M7.400 13.800 q-.6 3.600 1.600 7.400 l-1.400 1 q-1.600 -4 -.2 -8.400z" fill="#3a3a3a"/></g></svg></div>
<div style="position:absolute;left:856.7px;top:468.4px;width:27px;height:30.8px;border-radius:9.5px;background:#fff;"></div>
<div style="position:absolute;left:858.2px;top:469.9px;width:24px;height:27.8px;border-radius:8px;overflow:hidden;"><svg width="24" height="28" viewBox="0 0 24 28" preserveAspectRatio="none"><g filter="url(#bl)"><rect x="-2" y="-2" width="28" height="32" fill="#888"/><rect width="24" height="28" fill="#211511"/><path d="M10 20 h8 v8 h-8z" fill="#b58a78"/><path d="M7.400 10 q.6 -8 7 -8 q6.200 0 6.600 8 q0 8.600 -3.800 11.800 q-2.800 1.600 -5.600 0 q-4 -3.200 -4.200 -11.800z" fill="#c9a193"/><path d="M9 9 q2.400 -1.600 5 0 q2.600 -1.600 5.400 0 v2.400 q-5 -1.200 -10.400 0z" fill="#a88478"/><path d="M12.600 16.400 q1.500 -.9 3 0 q-1.500 1.300 -3 0z" fill="#9c4048"/><path d="M14.200 1.200 q-7.200 1.200 -7.400 12 q0 8 2.600 14.800 h-9.400 v-28 h14.200z" fill="#2b1c16"/><path d="M14.200 1.200 q7 1 7.200 10.800 q-.2 9 -2 16 h4.600 v-28 h-9.800z" fill="#33221b"/></g></svg></div>
<div style="position:absolute;left:880.9px;top:468.4px;width:27px;height:30.8px;border-radius:9.5px;background:#fff;"></div>
<div style="position:absolute;left:882.4px;top:469.9px;width:24px;height:27.8px;border-radius:8px;overflow:hidden;"><svg width="24" height="28" viewBox="0 0 24 28" preserveAspectRatio="none"><g filter="url(#bl)"><rect x="-2" y="-2" width="28" height="32" fill="#888"/><rect width="24" height="28" fill="#0d0d0d"/><path d="M3 6 q5 -5 11 -4.600 l7 0 q3 6 2.600 14 q-1 8 -5 12.600 h-12 q-5 -8 -3.600 -22z" fill="#3d3d3d"/><path d="M13.400 2 h8 q2.200 5 2 12 q-.6 8 -4.400 13 q-3 .6 -5 -1 q-2.400 -10 -.6 -24z" fill="#6a6a6a"/><path d="M15.400 6 q3 -1.400 5.600 .6 l.4 8 q-1.600 3.400 -4.600 3 q.8 -5.600 -1.400 -11.600z" fill="#8c8c8c"/><path d="M11.600 19.800 q4 1.600 8 .2 l-.4 1.800 q-3.600 1.200 -7.400 -.2z" fill="#1c1c1c"/><path d="M14 4.600 q3 -1.200 6.600 0 l.2 1.400 q-3.400 -.8 -6.800 .2z" fill="#1a1a1a"/><path d="M1 2 q3 6 3 14 q0 6 2 12 h-6 v-28z" fill="#141414"/></g></svg></div>
<div style="position:absolute;left:904.7px;top:468.4px;width:27px;height:30.8px;border-radius:9.5px;background:#fff;"></div>
<div style="position:absolute;left:906.2px;top:469.9px;width:24px;height:27.8px;border-radius:8px;overflow:hidden;"><svg width="24" height="28" viewBox="0 0 24 28" preserveAspectRatio="none"><g filter="url(#bl)"><rect x="-2" y="-2" width="28" height="32" fill="#888"/><rect width="24" height="28" fill="#d39b5e"/><rect width="5.400" height="28" fill="#7c8a96"/><rect width="5.400" height="9" fill="#d98a52"/><rect y="17" width="5.400" height="11" fill="#2c5a48"/><path d="M9 5 q.6 -4.600 6.200 -4.600 q5.400 .2 5.400 6 q0 5.400 -2.600 8.400 q-3 1.800 -5.800 0 q-3.400 -3.400 -3.200 -9.800z" fill="#e3a583"/><path d="M11.600 9.600 q2.800 1.600 5.600 0 q-.6 2.200 -2.800 2.400 q-2.200 -.2 -2.800 -2.400z" fill="#d4806c"/><path d="M10.400 14 q4 3 8 .4 l.6 8 h-9z" fill="#dba27c"/><path d="M4 28 q2 -6 8 -5.600 l3 1.400 l3 -1.400 q5 .4 6 5.600z" fill="#1b6650"/><path d="M5.400 0 h5.600 q-3 3 -2.600 9 q.4 6 -1.600 11 q-1.400 2 -1.400 -2z" fill="#c98e52"/><path d="M20 3 q3 3 2.600 10 q0 6 1.400 10 v-23 h-6z" fill="#dca468"/></g></svg></div>
<div style="position:absolute;left:929.1px;top:468.4px;width:27px;height:30.8px;border-radius:9.5px;background:#fff;"></div>
<div style="position:absolute;left:930.6px;top:469.9px;width:24px;height:27.8px;border-radius:8px;overflow:hidden;"><svg width="24" height="28" viewBox="0 0 24 28" preserveAspectRatio="none"><g filter="url(#bl)"><rect x="-2" y="-2" width="28" height="32" fill="#888"/><rect width="24" height="28" fill="#ecd9a4"/><path d="M0 0 h12 q-5.600 4 -5.600 12 q.4 8 -2 16 h-4.400z" fill="#8fc162"/><path d="M3 6 q4 -6 10 -6 h-9 q-3 2 -1 6z" fill="#b4d27c"/><path d="M5.600 8 q1.600 -7.400 9.400 -7.600 q8 .6 8 9 q-.2 8 -5 12 q-4.600 2 -8.600 -1 q-4.200 -5 -3.800 -12.400z" fill="#efd3bd"/><path d="M9 11.800 q2.600 -1.400 5 0 q-2.400 2.400 -5 0z" fill="#c4514e"/><path d="M16 5.600 q2.800 -1.400 5 .2 q-2.400 1.200 -5 -.2z" fill="#4a3a32"/><path d="M8 3.600 q2.200 -1.400 4.400 -.4 q-2 1.200 -4.400 .4z" fill="#5a4a3a"/><path d="M6 20 q6 -2 12 1 l2 7 h-15z" fill="#ebc8ae"/><ellipse cx="19.600" cy="20.400" rx="2" ry="3.200" fill="none" stroke="#fbf6e0" stroke-width="1.200"/><path d="M21 12 q3 2 3 8 v-12z" fill="#e6c66c"/></g></svg></div>
<div style="position:absolute;left:954.7px;top:468.4px;width:27px;height:30.8px;border-radius:9.5px;background:#fff;"></div>
<div style="position:absolute;left:956.2px;top:469.9px;width:24px;height:27.8px;border-radius:8px;overflow:hidden;"><svg width="24" height="28" viewBox="0 0 24 28" preserveAspectRatio="none"><g filter="url(#bl)"><rect x="-2" y="-2" width="28" height="32" fill="#888"/><rect width="24" height="28" fill="#efefef"/><path d="M0 28 q1 -4 6 -4.600 h12 q5 .6 6 4.600z" fill="#74747a"/><path d="M4.400 9 q.4 -6 7.800 -6 q7.400 .2 7.600 6.400 q.2 9 -3 13.600 q-4.400 3 -9 0 q-3.600 -5 -3.400 -14z" fill="#c88d66"/><path d="M7 10.200 q2 -1.200 4 0 M13.600 10.200 q2 -1.200 4 0" stroke="#3a261a" stroke-width="1.100" fill="none"/><path d="M2.400 11 q-2 -10.400 9.800 -10.600 q11.400 .4 9.400 11 l-1.400 2 q.4 -6.400 -2.600 -7.600 q-5.600 -1.200 -11 0 q-2.800 1.200 -2.600 7.600z" fill="#2a1b13"/><path d="M4.600 15 q.2 9.600 3 12 q4.600 2 9 0 q3 -3 3.400 -12 q-1.400 4 -4 4.600 q-3.600 -1 -7.400 0 q-3 -.8 -4 -4.600z" fill="#3b2519"/><path d="M9.600 21.400 q2.600 -.8 5.200 0 q-2.600 1 -5.200 0z" fill="#a8695a"/></g></svg></div>
<div class="t" style="top:514.30px;font-size:9.4px;line-height:9.4px;color:#222;font-weight:bold;left:832.4px;">Insert Amount</div>
<div class="t" style="top:539.00px;font-size:18px;line-height:18px;color:#1a1a1a;font-weight:bold;left:896.4px;">875</div>
<div class="" style="position:absolute;left:927px;top:540px;width:1.2px;height:16px;background:#5b46ae;"></div>
<div class="" style="position:absolute;left:832.4px;top:566.8px;width:149.4px;height:1px;background:#f0f0f2;"></div>
<div class="" style="position:absolute;left:832.4px;top:566.5px;width:58px;height:1.6px;background:#5b46ae;"></div>
<div class="" style="position:absolute;left:886.2px;top:563.4px;width:7.8px;height:7.8px;background:#5b46ae;border-radius:50%;"></div>
<div class="t" style="top:583.00px;font-size:7.2px;line-height:7.2px;color:#77777c;font-weight:bold;left:831.8px;">Your Balance</div>
<div class="t" style="top:582.70px;font-size:7.8px;line-height:7.8px;color:#6a6a6f;font-weight:bold;right:42.200000000000045px;text-align:right;">$ 456,345.62</div>
<div class="" style="position:absolute;left:831.8px;top:607.2px;width:151.2px;height:30px;background:#5b46ae;border-radius:15px;"></div>
<div class="t" style="top:617.05px;font-size:9.5px;line-height:9.5px;color:#fff;font-weight:bold;left:757.4px;width:300px;text-align:center;">TRANSFER NOW</div>
<div class="card" style="position:absolute;left:816px;top:672.8px;width:182.4px;height:60px;"></div>
<div class="t" style="top:692.70px;font-size:10.2px;line-height:10.2px;color:#222;font-weight:bold;left:832.4px;">Transaction Overview</div>
<div class="card" style="position:absolute;left:207.8px;top:593.2px;width:384px;height:90.4px;overflow:hidden;"><svg width="384" height="91" viewBox="207.8 593.2 384 91" style="position:absolute;left:0;top:0"><defs><linearGradient id="ga" x1="0" y1="625" x2="0" y2="684" gradientUnits="userSpaceOnUse"><stop offset="0" stop-color="#5c43b2"/><stop offset="1" stop-color="#12aed2"/></linearGradient></defs><path d="M203.0 665.6 C204.8 664.6 206.1 663.9 207.9 662.9 C214.2 659.4 219.2 656.3 225.5 653.1 C227.3 652.2 228.6 652.1 230.4 652.1 C232.1 652.1 233.3 652.7 235.0 653.4 C242.8 656.7 248.9 660.3 256.7 663.6 C258.1 664.2 259.2 664.8 260.6 664.8 C262.0 664.8 263.1 664.2 264.5 662.9 C271.6 656.5 277.0 650.8 284.1 644.4 C285.9 642.8 287.2 642.9 289.0 642.9 C291.1 642.9 292.7 643.4 294.8 645.3 C304.7 654.2 312.3 662.7 322.2 671.6 C324.3 673.5 325.9 674.6 328.0 674.6 C330.1 674.6 331.8 673.6 333.9 671.6 C339.2 666.6 343.2 661.9 348.5 657.2 C350.0 655.8 351.3 655.4 352.8 655.4 C354.8 655.4 356.3 656.0 358.3 656.8 C366.0 659.7 372.1 662.8 379.8 665.6 C381.2 666.1 382.3 666.4 383.7 666.4 C385.1 666.4 386.2 665.5 387.6 663.4 C390.6 658.9 393.0 653.6 396.0 648.2 C400.2 640.7 403.5 634.2 407.7 627.9 C410.2 624.2 412.1 625.2 414.6 625.2 C417.0 625.2 419.0 626.3 421.4 628.7 C428.4 635.7 433.9 644.1 440.9 651.1 C443.4 653.6 445.3 654.1 447.8 654.1 C450.4 654.1 452.4 653.0 455.0 652.0 C458.0 650.8 460.4 649.2 463.4 649.2 C466.2 649.2 468.4 649.7 471.2 653.1 C473.0 655.2 474.3 658.3 476.1 660.4 C478.5 663.3 480.5 662.9 482.9 662.9 C485.0 662.9 486.7 662.2 488.8 659.7 C493.7 653.8 497.5 647.5 502.4 641.6 C504.9 638.6 506.8 637.9 509.3 637.9 C512.4 637.9 514.9 638.8 518.0 639.6 C523.3 640.9 527.4 643.3 532.7 643.3 C535.3 643.3 537.4 642.6 540.0 642.2 C542.3 641.9 544.1 641.4 546.4 641.4 C548.5 641.4 550.2 641.8 552.3 644.3 C557.9 651.0 562.3 659.3 567.9 666.6 C570.3 669.8 572.3 669.7 574.7 669.7 C577.1 669.7 579.1 669.3 581.5 666.6 C584.0 663.9 585.9 660.2 588.4 658.2 C589.4 657.4 590.3 657.3 591.3 657.0 C593.4 656.4 594.9 656.0 597.0 656.0 L597 690 L203 690z" fill="url(#ga)"/></svg></div>
<div class="t" style="top:606.90px;font-size:7.4px;line-height:7.4px;color:#6e6e73;font-weight:bold;left:224.6px;">Weekly Wallet Usage</div>
<svg style="position:absolute;left:226.6px;top:628.6px;" width="7" height="4" viewBox="0 0 7 4" fill="none"><path d="M0 3.6 L3.3 0 L6.6 3.6z" fill="#1eb83f"/></svg>
<div class="t" style="top:621.80px;font-size:18px;line-height:18px;color:#1a1a1a;font-weight:bold;left:241px;">43%</div>
<div class="t" style="top:627.20px;font-size:7.6px;line-height:7.6px;color:#77777c;font-weight:normal;left:290.8px;">Than last week</div>
<svg style="position:absolute;left:521.6px;top:625.8px;" width="12" height="8" viewBox="0 0 12 8" fill="none"><path d="M1 6.6 q1.800 -4 3.400 -2.200 q1.600 1.800 3 -.8 q1.400 -2.600 3.200 -2.800" stroke="#1eb83f" stroke-width="1.400" stroke-linecap="round" stroke-linejoin="round" fill="none"/></svg>
<div class="t" style="top:626.85px;font-size:6.7px;line-height:6.7px;color:#77777c;font-weight:normal;left:535.2px;">4% (30 days)</div>
<div class="card" style="position:absolute;left:616.2px;top:593.8px;width:181.6px;height:130px;"></div>
<div class="t" style="top:613.05px;font-size:10.3px;line-height:10.3px;color:#222;font-weight:bold;left:632px;">Bar Spendings</div>
<div class="t" style="top:631.20px;font-size:7.6px;line-height:7.6px;color:#8a8a8f;font-weight:normal;left:632px;">Lorem ipsum dolor sit</div>
<svg style="position:absolute;left:774.8px;top:622.6px;" width="3" height="12" viewBox="0 0 3 12" fill="none"><circle cx="1.5" cy="1.4" r="1.15" fill="#333"/><circle cx="1.5" cy="5.7" r="1.15" fill="#333"/><circle cx="1.5" cy="10" r="1.15" fill="#333"/></svg>
<div class="" style="position:absolute;left:632px;top:657px;width:149.6px;height:10.6px;background:#f9f9fa;"></div>
<div class="" style="position:absolute;left:632px;top:657px;width:66.8px;height:10.6px;background:linear-gradient(90deg,#a83bd6,#e945e3);"></div>
<div class="t" style="top:677.30px;font-size:7.4px;line-height:7.4px;color:#8a8a8f;font-weight:normal;left:632px;">Investment</div>
<div class="t" style="top:676.35px;font-size:9.3px;line-height:9.3px;color:#333;font-weight:bold;left:720.5px;">$1,415</div>
<div class="t" style="top:676.70px;font-size:8.6px;line-height:8.6px;color:#e0e0e3;font-weight:normal;left:753.6px;">/$2,000</div>
</div></body></html>
